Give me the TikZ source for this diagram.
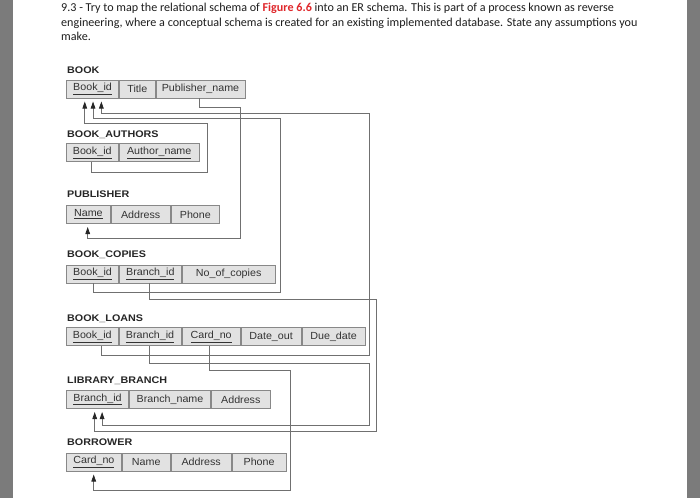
\documentclass[tikz,border=0pt]{standalone}
\usepackage{fontspec}
\setmainfont{Carlito}
\newfontfamily\helv[FakeStretch=1.04]{Liberation Sans}
\newfontfamily\helvb[FakeStretch=1.12]{Liberation Sans Bold}
\usetikzlibrary{arrows.meta,calc}
\definecolor{bandc}{HTML}{7B7B7B}
\definecolor{cellc}{HTML}{E2E2E2}
\definecolor{boxc}{HTML}{888888}
\definecolor{txtc}{HTML}{333333}
\definecolor{lblc}{HTML}{262626}
\definecolor{linec}{HTML}{707070}
\definecolor{redc}{HTML}{E0282C}
\definecolor{titc}{HTML}{1E1E1E}
\tikzset{
  cell/.style={draw=boxc, fill=cellc, line width=0.8pt, minimum height=18pt,
    inner sep=0pt, anchor=north west, text=txtc, font=\helv\fontsize{10.3}{11}\selectfont},
  lbl/.style={anchor=base west, inner sep=0pt, text=lblc, font=\helvb\fontsize{9.6}{11}\selectfont},
  titleline/.style={anchor=base west, inner sep=0pt, text=titc, font=\fontsize{12.1}{14}\selectfont},
  fk/.style={draw=linec, line width=0.8pt, -{Triangle[length=7pt,width=4.6pt,color=black!85]}, shorten >=3.2pt},
}
\begin{document}
\begin{tikzpicture}[x=1pt,y=-1pt]
\useasboundingbox (0,0) rectangle (700,498);
\fill[white] (0,0) rectangle (700,498);
\fill[bandc] (0,0) rectangle (13.3,498);
\fill[bandc] (686.7,0) rectangle (700,498);

% title
\node[titleline] (t1) at (61,11.8) {9.3 - Try to map the relational schema of \textbf{\textcolor{redc}{Figure 6.6}} into an ER schema. This is part of a process known as reverse};
\node[titleline] (t2) at (61,26.2) {engineering, where a conceptual schema is created for an existing implemented database. State any assumptions you};
\node[titleline] (t3) at (61,40.6) {make.};

% BOOK
\node[lbl] (lbook) at (67,73.4) {BOOK};
\node[cell, minimum width=52.3pt] (b1) at (66,79.5) {\underline{Book\_id}};
\node[cell, minimum width=35.7pt] (b2) at (b1.north east) {Title};
\node[cell, minimum width=89pt] (b3) at (b2.north east) {Publisher\_name};

% BOOK_AUTHORS
\node[lbl] (lba) at (67,137.5) {BOOK\_AUTHORS};
\node[cell, minimum width=51.7pt] (ba1) at (66,143.2) {\underline{Book\_id}};
\node[cell, minimum width=80.6pt] (ba2) at (ba1.north east) {\underline{Author\_name}};

% PUBLISHER
\node[lbl] (lpub) at (67,197.7) {PUBLISHER};
\node[cell, minimum width=44pt] (p1) at (66,205) {\underline{Name}};
\node[cell, minimum width=59pt] (p2) at (p1.north east) {Address};
\node[cell, minimum width=48.7pt] (p3) at (p2.north east) {Phone};

% BOOK_COPIES
\node[lbl] (lbc) at (67,257.7) {BOOK\_COPIES};
\node[cell, minimum width=52.3pt] (bc1) at (66,264.5) {\underline{Book\_id}};
\node[cell, minimum width=61.7pt] (bc2) at (bc1.north east) {\underline{Branch\_id}};
\node[cell, minimum width=93.3pt] (bc3) at (bc2.north east) {No\_of\_copies};

% BOOK_LOANS
\node[lbl] (lbl) at (67,321) {BOOK\_LOANS};
\node[cell, minimum width=51.7pt] (bl1) at (66,327.3) {\underline{Book\_id}};
\node[cell, minimum width=62.3pt] (bl2) at (bl1.north east) {\underline{Branch\_id}};
\node[cell, minimum width=58.3pt] (bl3) at (bl2.north east) {\underline{Card\_no}};
\node[cell, minimum width=60pt] (bl4) at (bl3.north east) {Date\_out};
\node[cell, minimum width=63.4pt] (bl5) at (bl4.north east) {Due\_date};

% LIBRARY_BRANCH
\node[lbl] (llb) at (67,383.4) {LIBRARY\_BRANCH};
\node[cell, minimum width=62.3pt] (lb1) at (66,390) {\underline{Branch\_id}};
\node[cell, minimum width=81pt] (lb2) at (lb1.north east) {Branch\_name};
\node[cell, minimum width=59pt] (lb3) at (lb2.north east) {Address};

% BORROWER
\node[lbl] (lbr) at (67,445.7) {BORROWER};
\node[cell, minimum width=55pt] (br1) at (66,452.5) {\underline{Card\_no}};
\node[cell, minimum width=48pt] (br2) at (br1.north east) {Name};
\node[cell, minimum width=60.3pt] (br3) at (br2.north east) {Address};
\node[cell, minimum width=54pt] (br4) at (br3.north east) {Phone};

% foreign keys
\draw[fk] ([xshift=-0.85pt]ba1.south) -- ++(0,10) -| (207.3,123.3) -| ([xshift=-7.8pt]b1.south);
\draw[fk] ([xshift=0.5pt]bc1.south) -- ++(0,9.2) -| (280.7,118.3) -| ([xshift=0.5pt]b1.south);
\draw[fk] ([xshift=9.2pt]bl1.south) -- ++(0,9) -| (369.3,113.3) -| ([xshift=8.8pt]b1.south);
\draw[fk] ([xshift=-0.8pt]b3.south) -- ++(0,9) -| (240.7,238.3) -| ([xshift=-0.7pt]p1.south);
\draw[fk] ([xshift=-1.45pt]bc2.south) -- ++(0,15.8) -| (376.7,431.7) -| ([xshift=-2.85pt]lb1.south);
\draw[fk] ([xshift=-1.15pt]bl2.south) -- ++(0,17) -| (369.3,425) -| ([xshift=4.55pt]lb1.south);
\draw[fk] ([xshift=-1.85pt]bl3.south) -- ++(0,24.7) -| (290,490) -| ([xshift=-0.2pt]br1.south);
\end{tikzpicture}
\end{document}
